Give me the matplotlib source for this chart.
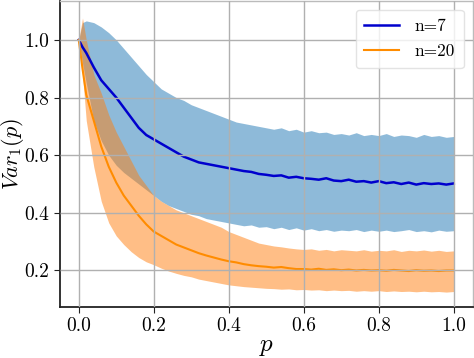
import matplotlib
matplotlib.use("Agg")
import matplotlib.pyplot as plt
import numpy as np

plt.rcParams['font.family'] = 'serif'
plt.rcParams['font.serif'] = ['cmr10']
plt.rcParams['mathtext.fontset'] = 'cm'
plt.rcParams['axes.unicode_minus'] = False
plt.rcParams['axes.formatter.use_mathtext'] = True

p = [0.00, 0.01, 0.02, 0.04, 0.06, 0.08, 0.10, 0.12, 0.14, 0.16, 0.18, 0.20,
     0.22, 0.24, 0.26, 0.28, 0.30, 0.32, 0.34, 0.36, 0.38, 0.40, 0.42, 0.44,
     0.46, 0.48, 0.50, 0.52, 0.54, 0.56, 0.58, 0.60, 0.62, 0.64, 0.66, 0.68,
     0.70, 0.72, 0.74, 0.76, 0.78, 0.80, 0.82, 0.84, 0.86, 0.88, 0.90, 0.92,
     0.94, 0.96, 0.98, 1.00]

mean_n7 = [1.000, 0.975, 0.955, 0.905, 0.860, 0.830, 0.800, 0.765, 0.730, 0.695, 0.670, 0.655,
           0.640, 0.625, 0.610, 0.595, 0.585, 0.575, 0.570, 0.565, 0.560, 0.555, 0.550, 0.545,
           0.542, 0.535, 0.532, 0.528, 0.530, 0.522, 0.525, 0.520, 0.518, 0.515, 0.520, 0.512,
           0.510, 0.515, 0.508, 0.510, 0.505, 0.510, 0.503, 0.506, 0.500, 0.505, 0.498, 0.503,
           0.500, 0.502, 0.498, 0.502]
upper_n7 = [1.000, 1.060, 1.066, 1.060, 1.045, 1.025, 1.000, 0.970, 0.940, 0.910, 0.880, 0.855,
            0.830, 0.815, 0.800, 0.790, 0.775, 0.765, 0.755, 0.745, 0.735, 0.725, 0.715, 0.710,
            0.705, 0.700, 0.695, 0.690, 0.695, 0.685, 0.690, 0.680, 0.685, 0.678, 0.680, 0.672,
            0.675, 0.670, 0.678, 0.668, 0.672, 0.668, 0.675, 0.665, 0.670, 0.668, 0.662, 0.672,
            0.665, 0.668, 0.662, 0.665]
lower_n7 = [1.000, 0.920, 0.850, 0.720, 0.650, 0.600, 0.565, 0.540, 0.520, 0.500, 0.480, 0.460,
            0.440, 0.425, 0.415, 0.405, 0.395, 0.390, 0.380, 0.375, 0.370, 0.365, 0.360, 0.355,
            0.358, 0.350, 0.352, 0.345, 0.350, 0.342, 0.348, 0.340, 0.345, 0.338, 0.342, 0.336,
            0.340, 0.338, 0.342, 0.335, 0.340, 0.336, 0.340, 0.335, 0.338, 0.342, 0.335, 0.338,
            0.334, 0.340, 0.336, 0.338]

mean_n20 = [1.000, 0.900, 0.810, 0.720, 0.630, 0.560, 0.505, 0.460, 0.425, 0.390, 0.360, 0.335,
            0.320, 0.305, 0.290, 0.280, 0.270, 0.260, 0.252, 0.245, 0.238, 0.232, 0.228, 0.222,
            0.218, 0.215, 0.213, 0.210, 0.212, 0.208, 0.205, 0.205, 0.203, 0.206, 0.202, 0.204,
            0.201, 0.203, 0.200, 0.202, 0.200, 0.201, 0.199, 0.202, 0.200, 0.198, 0.201, 0.199,
            0.200, 0.198, 0.200, 0.200]
upper_n20 = [1.000, 1.076, 1.000, 0.880, 0.815, 0.740, 0.680, 0.630, 0.580, 0.530, 0.495, 0.460,
             0.440, 0.425, 0.410, 0.400, 0.390, 0.380, 0.370, 0.360, 0.350, 0.335, 0.325, 0.315,
             0.305, 0.295, 0.290, 0.285, 0.282, 0.278, 0.275, 0.273, 0.275, 0.270, 0.273, 0.268,
             0.272, 0.270, 0.268, 0.272, 0.267, 0.270, 0.268, 0.272, 0.266, 0.270, 0.268, 0.271,
             0.267, 0.270, 0.266, 0.268]
lower_n20 = [1.000, 0.880, 0.720, 0.560, 0.440, 0.365, 0.320, 0.290, 0.265, 0.245, 0.230, 0.220,
             0.208, 0.198, 0.190, 0.183, 0.178, 0.170, 0.165, 0.160, 0.155, 0.150, 0.147, 0.144,
             0.142, 0.140, 0.138, 0.137, 0.135, 0.136, 0.133, 0.134, 0.132, 0.133, 0.130, 0.132,
             0.130, 0.131, 0.128, 0.130, 0.128, 0.130, 0.127, 0.129, 0.127, 0.128, 0.126, 0.128,
             0.126, 0.127, 0.125, 0.127]

xticks = [0.0, 0.2, 0.4, 0.6, 0.8, 1.0]
yticks = [0.2, 0.4, 0.6, 0.8, 1.0]

fig = plt.figure(figsize=(4.74, 3.58), dpi=100)
ax = fig.add_axes([60/474, 1 - 306.5/358, 412.5/474, 305.5/358])

ax.fill_between(p, lower_n7, upper_n7, color='C0', alpha=0.5, linewidth=0)
ax.fill_between(p, lower_n20, upper_n20, color='C1', alpha=0.5, linewidth=0)
ax.plot(p, mean_n7, color='mediumblue', lw=1.8, label='n=7')
ax.plot(p, mean_n20, color='darkorange', lw=1.5, label='n=20')

ax.set_xlim(-0.05, 1.05)
ax.set_ylim(0.075, 1.135)
ax.set_xticks(xticks)
ax.set_yticks(yticks)
ax.set_xticklabels([f"{t:.1f}" for t in xticks])
ax.set_yticklabels([f"{t:.1f}" for t in yticks])
ax.tick_params(labelsize=14, length=4, width=0.8, color='#222222')
ax.grid(True, color='#b0b0b0', linewidth=1.0)
ax.set_axisbelow(False)

for s in ['left', 'bottom']:
    ax.spines[s].set_color('#222222')
    ax.spines[s].set_linewidth(1.3)
for s in ['top', 'right']:
    ax.spines[s].set_color('#bbbbbb')
    ax.spines[s].set_linewidth(1.0)

ax.set_xlabel(r'$p$', fontsize=18, labelpad=1)
ax.set_ylabel(r'$Var_1(p)$', fontsize=16)
ax.yaxis.set_label_coords(-(60 - 25.5) / 412.5, 0.5)

leg = ax.legend(loc='upper right', fontsize=12.5, framealpha=0.8, edgecolor='#dddddd',
                handletextpad=0.9, labelspacing=0.6, borderpad=0.5)

fig.savefig('out.png', dpi=100)
